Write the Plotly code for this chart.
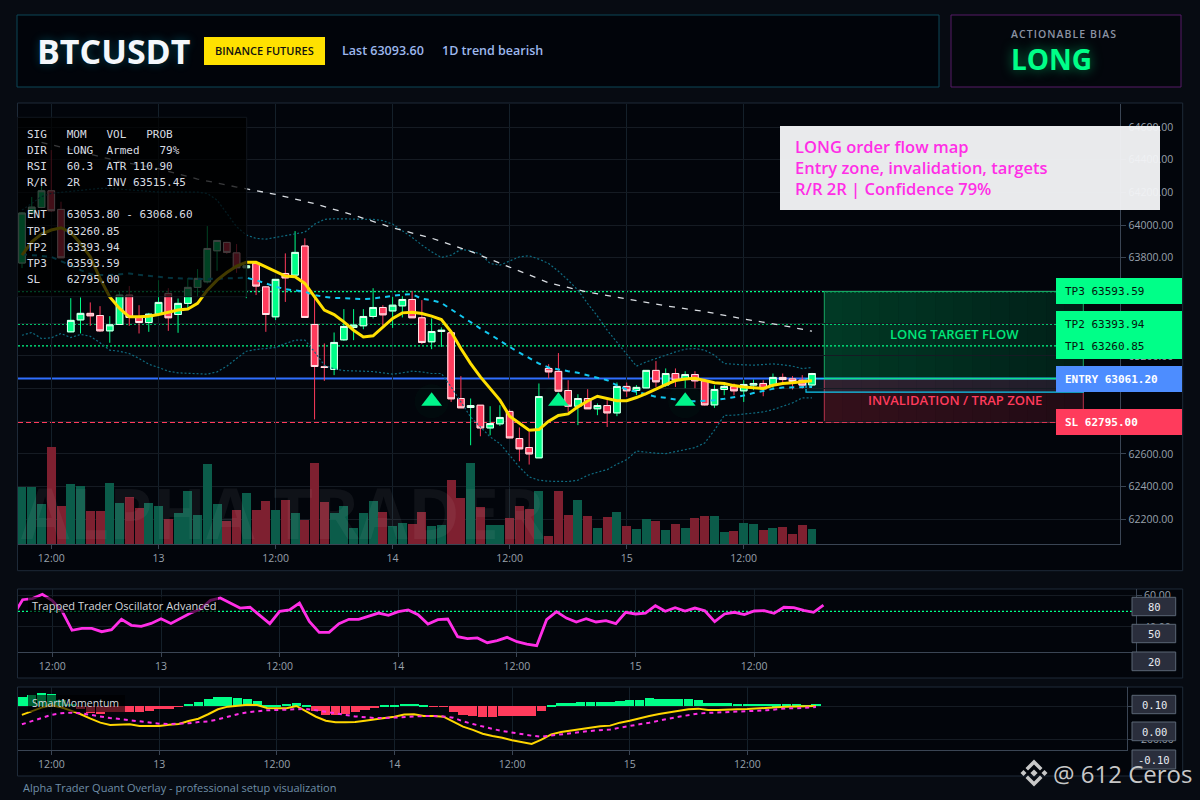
import plotly.graph_objects as go

W, H = 1200, 800
SANS = "Open Sans"
MONO = "DejaVu Sans Mono"
GREEN = "#00ff88"
RED = "#ff3b5c"
MAGENTA = "#ff2ee6"

opens = [63768, 64074, 64108, 64210, 64096, 63347, 63420, 63460, 63447, 63353,
         63392, 63572, 63439, 63404, 63455, 63582, 63453, 63521, 63619, 63653,
         63843, 63894, 63830, 63739, 63766, 63622, 63439, 63704, 63694, 63872,
         63392, 63133, 63117, 63298, 63374, 63384, 63441, 63496, 63475, 63506,
         63545, 63433, 63286, 63349, 63341, 62939, 62884, 62898, 62759, 62784,
         62860, 62694, 62639, 62576, 63123, 63105, 62988, 62892, 62939, 62876,
         62896, 62851, 63013, 62988, 63004, 63111, 63022, 63092, 63056, 63086,
         63047, 62900, 62994, 63013, 62986, 63021, 63031, 63022, 63068, 63059, 63051, 63022]
closes = [64074, 64110, 64210, 64088, 63800, 63417, 63460, 63445, 63353, 63390,
          63572, 63435, 63404, 63455, 63527, 63433, 63521, 63619, 63674, 63857,
          63906, 63833, 63739, 63751, 63627, 63453, 63668, 63677, 63833, 63435,
          63135, 63129, 63282, 63380, 63388, 63441, 63496, 63451, 63510, 63545,
          63433, 63282, 63349, 63357, 62937, 62882, 62896, 62759, 62786, 62823,
          62698, 62631, 62600, 62951, 63102, 62984, 62892, 62939, 62876, 62896,
          62851, 63013, 62986, 63007, 63111, 63041, 63092, 63051, 63086, 63047,
          62900, 62994, 63013, 62986, 63025, 63031, 62998, 63068, 63055, 63043, 63021, 63092]
highs = [64080, 64172, 64239, 64459, 64143, 63553, 63558, 63527, 63504, 63443,
         63590, 63627, 63510, 63463, 63663, 63614, 63551, 63676, 63731, 63994,
         63908, 63898, 63884, 63761, 63768, 63627, 63670, 63827, 63963, 63919,
         63559, 63276, 63343, 63486, 63486, 63486, 63614, 63510, 63561, 63565,
         63596, 63541, 63429, 63374, 63357, 63076, 62939, 62898, 62892, 62898,
         62872, 62762, 62735, 63031, 63149, 63217, 63051, 62965, 62996, 62909,
         62929, 63037, 63037, 63021, 63112, 63168, 63123, 63123, 63106, 63106,
         63062, 63021, 63031, 63031, 63051, 63055, 63051, 63092, 63092, 63076, 63082, 63096]
lows = [63737, 64061, 64104, 64080, 63798, 63345, 63337, 63384, 63347, 63280,
        63390, 63384, 63337, 63347, 63449, 63353, 63341, 63490, 63561, 63643,
        63720, 63823, 63708, 63553, 63572, 63347, 63419, 63530, 63684, 63433,
        62811, 63047, 63082, 63292, 63296, 63363, 63429, 63378, 63371, 63435,
        63433, 63272, 63241, 63255, 62918, 62882, 62653, 62708, 62714, 62771,
        62698, 62555, 62535, 62576, 63062, 62984, 62857, 62776, 62876, 62837,
        62765, 62831, 62949, 62959, 63002, 63010, 63010, 63010, 63002, 63002,
        62896, 62882, 62959, 62959, 62918, 62990, 62953, 63002, 63031, 62994, 63000, 63014]
volumes = [57, 57, 40, 97, 38, 60, 58, 33, 33, 61, 41, 47, 36, 41, 38, 25, 31, 53, 29, 80,
           40, 23, 34, 51, 34, 43, 34, 44, 31, 24, 81, 42, 31, 38, 16, 31, 43, 32, 18, 21,
           20, 32, 18, 19, 64, 46, 81, 37, 19, 19, 26, 38, 35, 53, 8, 53, 29, 44, 28, 16,
           27, 32, 18, 15, 25, 23, 14, 20, 16, 26, 28, 28, 12, 13, 21, 20, 14, 16, 17, 10, 19, 15]
ema_fast = [63816, 63898, 63945, 63970, 63984, 63955, 63888, 63806, 63674, 63561,
            63490, 63439, 63439, 63443, 63453, 63465, 63480, 63486, 63521, 63602,
            63663, 63710, 63749, 63772, 63772, 63745, 63714, 63688, 63684, 63643,
            63561, 63480, 63453, 63408, 63357, 63316, 63323, 63378, 63429, 63463,
            63467, 63459, 63443, 63422, 63347, 63245, 63153, 63071, 63000, 62929,
            62831, 62786, 62745, 62749, 62800, 62835, 62845, 62888, 62924, 62953,
            62939, 62926, 62926, 62945, 62969, 62998, 63024, 63049, 63059, 63063,
            63051, 63035, 63031, 63018, 63010, 63004, 63000, 63020, 63031, 63035, 63039, 63047]
ema_mid = [63821, 63817, 63810, 63806, 63780, 63751, 63725, 63700, 63694, 63694,
           63700, 63704, 63696, 63688, 63684, 63678, 63674, 63670, 63670, 63670,
           63672, 63676, 63678, 63678, 63663, 63643, 63623, 63608, 63598, 63592,
           63572, 63561, 63555, 63553, 63549, 63547, 63551, 63561, 63567, 63574,
           63578, 63549, 63541, 63524, 63484, 63449, 63408, 63367, 63331, 63292,
           63255, 63220, 63184, 63153, 63129, 63116, 63106, 63096, 63082, 63067,
           63051, 63020, 62994, 62980, 62963, 62949, 62943, 62933, 62924, 62922,
           62924, 62929, 62937, 62945, 62957, 62973, 62986, 62998, 63006, 63006, 63008, 63010]
band_upper = [64092, 64133, 64174, 64194, 64200, 64204, 64210, 64218, 64225, 64225,
              64220, 64216, 64212, 64204, 64202, 64202, 64202, 64202, 64202, 64194,
              64153, 64072, 63990, 63939, 63919, 63914, 63925, 63933, 63943, 63957,
              64006, 64035, 64039, 64039, 64039, 64037, 64035, 64027, 64006, 63965,
              63925, 63878, 63837, 63802, 63816, 63851, 63843, 63823, 63765, 63755,
              63782, 63806, 63812, 63792, 63765, 63718, 63663, 63602, 63520, 63443,
              63357, 63286, 63214, 63137, 63163, 63184, 63204, 63224, 63241, 63245,
              63235, 63204, 63153, 63147, 63145, 63143, 63149, 63151, 63145, 63137, 63122, 63129]
band_lower = [63326, 63343, 63306, 63310, 63337, 63312, 63331, 63320, 63280, 63235,
              63228, 63214, 63184, 63149, 63129, 63106, 63096, 63092, 63088, 63088,
              63102, 63137, 63184, 63228, 63239, 63243, 63251, 63275, 63296, 63296,
              63224, 63143, 63120, 63110, 63106, 63106, 63104, 63096, 63088, 63096,
              63106, 63102, 63092, 63092, 63010, 62918, 62826, 62765, 62704, 62663,
              62592, 62520, 62459, 62439, 62433, 62431, 62431, 62439, 62469, 62488,
              62504, 62537, 62565, 62618, 62610, 62604, 62602, 62616, 62626, 62639,
              62667, 62745, 62835, 62837, 62843, 62851, 62857, 62871, 62892, 62912, 62943, 62943]
trend_idx = [2, 6, 10, 14, 18, 22, 26, 30, 34, 38, 42, 46, 50, 54, 58, 62, 66, 70, 74, 78, 81]
trend_val = [64506, 64449, 64390, 64345, 64282, 64233, 64188, 64131, 64061, 63984, 63920,
             63839, 63741, 63647, 63590, 63547, 63506, 63471, 63426, 63386, 63351]
signal_idx = [42, 55, 68]
signal_val = [62922, 62922, 62922]

osc_val = [46.8, 57.4, 58.1, 60.9, 56.8, 50, 37.9, 39.1, 39.1, 37, 38.3, 44.9, 41.1, 40.4, 42.3,
           45.3, 42.3, 45.7, 48.9, 51.5, 57, 58.5, 55.3, 52.1, 52.6, 47.2, 42.1, 50, 50.9, 55.3,
           43.6, 36.6, 36.6, 42.1, 44.9, 44.9, 46.8, 48.9, 47.4, 49.8, 50.9, 47.9, 41.9, 44.7, 45.1,
           33.8, 32.6, 33, 30, 31.3, 33.4, 30.6, 29.1, 28.1, 44.7, 49.8, 45.7, 43.2, 45.3, 43.2,
           44, 42.1, 49.4, 48.3, 48.9, 53.6, 50, 52.3, 50.2, 52.1, 50.4, 43.4, 48.3, 49.4, 47.9,
           50.2, 50.4, 48.7, 52.6, 52.3, 50.6, 49.4, 54]
hist_val = [54, 69, 79, 75, 38, 14, -14, -40, -46, -34, -32, -34, -32, -28, -16, -16, -4, 14, 26, 44,
            57, 57, 50, 44, 30, 8, 8, 14, 20, 2, -26, -50, -50, -48, -34, -22, -10, 2, 8, 14,
            14, 2, -2, -2, -34, -52, -59, -65, -65, -57, -57, -59, -59, -28, 8, 20, 20, 26, 26, 26,
            26, 32, 38, 38, 50, 44, 44, 44, 44, 38, 20, 20, 20, 14, 14, 14, 14, 12, 12, 12, 8, 14]
macd_val = [-52, -32, -8, 6, -6, -26, -48, -75, -99, -113, -111, -109, -119, -121, -119, -111, -107, -89,
            -75, -48, -18, -2, 4, 10, 8, -10, -12, -12, 2, -28, -63, -87, -97, -97, -95, -87, -77, -71,
            -63, -50, -48, -59, -59, -63, -93, -123, -143, -166, -180, -190, -206, -218, -228, -202,
            -170, -156, -147, -135, -127, -121, -117, -99, -87, -75, -59, -46, -36, -28, -18, -14, -22,
            -22, -18, -18, -16, -14, -12, -6, -2, -2, 2, 2]
macd_signal = [-109, -91, -71, -52, -42, -38, -42, -52, -63, -71, -77, -85, -93, -101, -105, -107, -105,
               -103, -95, -91, -79, -63, -48, -36, -28, -24, -22, -20, -16, -16, -24, -34, -46, -52, -61,
               -67, -71, -71, -67, -63, -59, -59, -59, -61, -69, -91, -107, -123, -137, -149, -160, -170,
               -178, -184, -178, -170, -164, -156, -149, -145, -141, -129, -117, -109, -99, -89, -75, -63,
               -52, -44, -40, -38, -34, -32, -28, -26, -24, -18, -12, -12, -8, -4]

ENTRY, TP1, TP2, TP3, SL = 63061.20, 63260.85, 63393.94, 63593.59, 62795.00
ENTRY_LOW = 62978
idx = list(range(len(opens)))
tick_idx = [3, 14, 26, 38, 50, 62, 74]
tick_txt = ["12:00", "13", "12:00", "14", "12:00", "15", "12:00"]
price_ticks = list(range(62200, 64601, 200))
info_rows = ["SIG   MOM   VOL   PROB", "DIR   LONG  Armed   79%", "RSI   60.3  ATR 110.90",
             "R/R   2R    INV 63515.45", "", "ENT   63053.80 - 63068.60", "TP1   63260.85",
             "TP2   63393.94", "TP3   63593.59", "SL    62795.00"]
note_rows = ["LONG order flow map", "Entry zone, invalidation, targets", "R/R 2R | Confidence 79%"]


def px(x):
    return x / W


def py(y):
    return 1 - y / H


fig = go.Figure()

# --- volume + candles ---
bar_colors = ["#0b5c4a" if c >= o else "#7e2030" for o, c in zip(opens, closes)]
fig.add_trace(go.Bar(x=idx, y=volumes, marker=dict(color=bar_colors, line=dict(width=0)), width=0.92,
                     xaxis="x", yaxis="y", hoverinfo="skip"))
fig.add_trace(go.Candlestick(x=idx, open=opens, high=highs, low=lows, close=closes, xaxis="x", yaxis="y2",
                             whiskerwidth=0,
                             increasing=dict(line=dict(color=GREEN, width=1), fillcolor=GREEN),
                             decreasing=dict(line=dict(color=RED, width=1), fillcolor=RED)))
# the bodies again, without wick, for the white outline
body_top = [max(o, c) for o, c in zip(opens, closes)]
body_bot = [min(o, c) for o, c in zip(opens, closes)]
fig.add_trace(go.Candlestick(x=idx, open=opens, high=body_top, low=body_bot, close=closes, xaxis="x", yaxis="y2",
                             whiskerwidth=0, hoverinfo="skip",
                             increasing=dict(line=dict(color="#eafff4", width=1), fillcolor=GREEN),
                             decreasing=dict(line=dict(color="#ffe8ec", width=1), fillcolor=RED)))
fig.add_trace(go.Scatter(x=idx, y=band_upper, mode="lines", line=dict(color="#0f6b80", width=1.2, dash="2px,2px"),
                         xaxis="x", yaxis="y2"))
fig.add_trace(go.Scatter(x=idx, y=band_lower, mode="lines", line=dict(color="#0f6b80", width=1.2, dash="2px,2px"),
                         xaxis="x", yaxis="y2"))
fig.add_trace(go.Scatter(x=trend_idx, y=trend_val, mode="lines", line=dict(color="#d9dde2", width=1.3, dash="6px,7px"),
                         xaxis="x", yaxis="y2"))
fig.add_trace(go.Scatter(x=idx, y=ema_mid, mode="lines", line=dict(color="#12c8f0", width=2, dash="5px,5px"),
                         xaxis="x", yaxis="y2"))
fig.add_trace(go.Scatter(x=idx, y=ema_fast, mode="lines", line=dict(color="#ffdf00", width=3),
                         xaxis="x", yaxis="y2"))
fig.add_trace(go.Scatter(x=signal_idx, y=signal_val, mode="markers",
                         marker=dict(symbol="circle", size=34, color="rgba(0,255,136,0.025)"),
                         xaxis="x", yaxis="y2"))
fig.add_trace(go.Scatter(x=signal_idx, y=signal_val, mode="markers",
                         marker=dict(symbol="triangle-up", size=18, color="#00f58a"),
                         xaxis="x", yaxis="y2"))

# --- oscillator ---
fig.add_trace(go.Scatter(x=[-1] + idx, y=osc_val, mode="lines", line=dict(color=MAGENTA, width=2.8),
                         xaxis="x2", yaxis="y3"))

# --- momentum ---
hist_colors = [GREEN if v >= 0 else RED for v in hist_val]
fig.add_trace(go.Bar(x=idx, y=hist_val, marker=dict(color=hist_colors, line=dict(width=0)), width=0.95,
                     xaxis="x3", yaxis="y4"))
fig.add_trace(go.Scatter(x=idx, y=macd_val, mode="lines", line=dict(color="#ffd600", width=2),
                         xaxis="x3", yaxis="y4"))
fig.add_trace(go.Scatter(x=idx, y=macd_signal, mode="lines", line=dict(color=MAGENTA, width=2, dash="4px,4px"),
                         xaxis="x3", yaxis="y4"))

grid = "#151b23"
axis_line = "#3a4554"
tick_font = dict(family=SANS, size=10.5, color="#98a1ac")


def x_axis(x0, x1, first, step):
    return dict(domain=[px(x0), px(x1)], range=[(x0 - first) / step, (x1 - first) / step],
                tickmode="array", tickvals=tick_idx, ticktext=tick_txt, tickfont=tick_font,
                showgrid=True, gridcolor="#14202a", gridwidth=1, zeroline=False, showline=True,
                linecolor=axis_line, linewidth=1, ticks="outside", ticklen=4, tickcolor=axis_line,
                rangeslider=dict(visible=False), fixedrange=True)


def y_axis(y0, y1, rng, vals, **kw):
    d = dict(domain=[py(y1), py(y0)], range=rng, side="right", tickmode="array", tickvals=vals,
             tickformat=".2f", tickfont=tick_font, showgrid=True, gridcolor=grid, zeroline=False,
             showline=True, linecolor=axis_line, linewidth=1, ticks="outside", ticklen=5,
             tickcolor=axis_line, fixedrange=True)
    d.update(kw)
    return d


fig.update_layout(
    width=W, height=H, autosize=False, margin=dict(l=0, r=0, t=0, b=0),
    paper_bgcolor="#070b12", plot_bgcolor="rgba(0,0,0,0)", showlegend=False, bargap=0,
    boxmode="overlay", boxgap=0, boxgroupgap=0.32,
    xaxis=x_axis(18, 1120.3, 22, 9.753),
    xaxis2=x_axis(18, 1136, 22.6, 9.887),
    xaxis3=x_axis(18, 1127, 21.9, 9.803),
    yaxis=dict(domain=[py(544.3), py(104)], range=[0, 440], visible=False, fixedrange=True, anchor="x"),
    yaxis2=y_axis(104, 544.3, [62047, 64741], price_ticks, overlaying="y", anchor="x"),
    yaxis3=y_axis(589, 652, [24.04, 64.25], [60, 40], anchor="x2"),
    yaxis4=y_axis(687, 750, [-264.6, 117], [0, -200], anchor="x3"),
)
fig.layout.xaxis2.anchor = "y3"
fig.layout.xaxis3.anchor = "y4"
fig.layout.xaxis.anchor = "y2"


def rect(x0, y0, x1, y1, fill=None, line=None, width=1, layer="below"):
    fig.add_shape(type="rect", xref="paper", yref="paper", x0=px(x0), x1=px(x1), y0=py(y0), y1=py(y1),
                  fillcolor=fill or "rgba(0,0,0,0)", line=dict(color=line or "rgba(0,0,0,0)", width=width if line else 0),
                  layer=layer)


def label(x, y, text, size, color, anchor="left", family=SANS, weight=400, shadow=None):
    font = dict(family=family, size=size, color=color, weight=weight)
    if shadow:
        font["shadow"] = shadow
    fig.add_annotation(x=px(x), y=py(y), xref="paper", yref="paper", text=text.replace(" ", "\u00a0"),
                       showarrow=False, xanchor=anchor, yanchor="middle", font=font, borderpad=0, borderwidth=0)


# --- frames ---
rect(17, 15, 939, 87, "#01040a", "#0d4656")
rect(951, 15, 1181, 87, "#03060c", "#561a66")
rect(17.5, 103, 1182.7, 570.7, "#02050b", "#1e2a38")
rect(17.5, 589, 1182.7, 678, "#02050b", "#1e2a38")
rect(17.5, 687, 1182.7, 776, "#02050b", "#1e2a38")

# --- trade zones ---
zx0, zx1 = (824.3 - 22) / 9.753, (1083.3 - 22) / 9.753
strips = 14
for k in range(strips):
    a = k / strips
    b = (k + 1) / strips
    fig.add_shape(type="rect", xref="x", yref="y2", x0=zx0 + (zx1 - zx0) * a, x1=zx0 + (zx1 - zx0) * b,
                  y0=ENTRY, y1=TP3, fillcolor=f"rgba(0,255,136,{0.21 - 0.11 * a:.3f})", line=dict(width=0), layer="below")
    fig.add_shape(type="rect", xref="x", yref="y2", x0=zx0 + (zx1 - zx0) * a, x1=zx0 + (zx1 - zx0) * b,
                  y0=SL, y1=ENTRY, fillcolor=f"rgba(255,59,92,{0.20 - 0.08 * a:.3f})", line=dict(width=0), layer="below")
fig.add_shape(type="rect", xref="x", yref="y2", x0=zx0, x1=zx1, y0=ENTRY, y1=TP3,
              line=dict(color="#17a863", width=1), layer="below")
fig.add_shape(type="rect", xref="x", yref="y2", x0=zx0, x1=zx1, y0=SL, y1=ENTRY,
              line=dict(color="#b8324c", width=1), layer="below")
fig.add_shape(type="rect", xref="x", yref="y2", x0=(806 - 22) / 9.753, x1=zx1, y0=ENTRY_LOW, y1=ENTRY,
              fillcolor="rgba(18,200,240,0.10)", line=dict(color="#12c8f0", width=1.2), layer="below")

# --- level lines ---
for level, col, w, dash in [(TP3, GREEN, 1.2, "2px,2px"), (TP2, GREEN, 1.2, "2px,2px"), (TP1, GREEN, 1.2, "2px,2px"),
                            (ENTRY, "#2f6fff", 2, "solid"), (SL, RED, 2, "5px,3px")]:
    fig.add_shape(type="line", xref="paper", yref="y2", x0=px(18), x1=px(1056), y0=level, y1=level,
                  line=dict(color=col, width=w, dash=dash), layer="below")
fig.add_shape(type="line", xref="x", yref="y2", x0=zx0, x1=(1056 - 22) / 9.753, y0=ENTRY, y1=ENTRY,
              line=dict(color="#0be08a", width=1.5), layer="below")
fig.add_shape(type="line", xref="paper", yref="y3", x0=px(18), x1=px(1132), y0=50, y1=50,
              line=dict(color=GREEN, width=1.2, dash="2px,2px"), layer="below")

# --- overlays on top of the candles ---
rect(17.5, 117.3, 246.7, 296.7, "rgba(0,0,0,0.74)", "#10161e", layer="above")
rect(780, 126, 1160, 210, "rgba(243,244,246,0.96)", layer="above")
rect(28, 597, 218, 613, "rgba(0,0,0,0.62)", layer="above")
rect(28, 695, 125, 712, "rgba(0,0,0,0.62)", layer="above")
rect(1056, 278, 1182, 304, GREEN, layer="above")
rect(1056, 311, 1182, 337, GREEN, layer="above")
rect(1056, 333, 1182, 359, GREEN, layer="above")
rect(1056, 366, 1182, 392, "#4d8dff", layer="above")
rect(1056, 409, 1182, 435, RED, layer="above")
for y0, y1, x0 in [(597.3, 615.7, 1132), (624.3, 642.7, 1132), (652, 670.7, 1132),
                   (695.3, 713.7, 1132), (722, 740.7, 1132), (750, 769, 1132)]:
    rect(x0, y0, 1175.7, y1, "#2a2e3c", "#5a6675", layer="above")
rect(204, 37, 325, 65, "#ffe100", layer="above")

# --- header ---
label(37, 51, "BTCUSDT", 34, "#f4f7fb", weight=700, shadow="0 0 10px rgba(0,200,230,0.3)")
label(264.5, 51, "BINANCE FUTURES", 11, "#111111", anchor="center", weight=600)
label(342, 51, "Last 63093.60", 12.5, "#9db8ee", weight=600)
label(442, 51, "1D trend bearish", 12.5, "#9db8ee", weight=600)
label(1011, 34, "\u200a".join("ACTIONABLE BIAS"), 10.5, "#8b93a3", weight=600)
label(1011, 59, "LONG", 28, GREEN, weight=700, shadow="0 0 12px rgba(0,255,136,0.5)")

# --- info table ---
row_y = 134
for row in info_rows:
    if row:
        label(27, row_y, row, 11, "#d8dce1", family=MONO)
    row_y += 16.2

for i, row in enumerate(note_rows):
    label(795, 147 + i * 20.8, row, 16.5, MAGENTA, weight=600)

label(955, 334, "LONG TARGET FLOW", 13, "#00e67a", anchor="center", weight=600)
label(955, 400, "INVALIDATION / TRAP ZONE", 13, RED, anchor="center", weight=600)
label(1065, 291, "TP3 63593.59", 11, "#06140d", family=MONO)
label(1065, 324, "TP2 63393.94", 11, "#06140d", family=MONO)
label(1065, 346, "TP1 63260.85", 11, "#06140d", family=MONO)
label(1065, 379, "ENTRY 63061.20", 11, "#ffffff", family=MONO, weight=700)
label(1065, 422, "SL 62795.00", 11, "#ffffff", family=MONO, weight=700)

for y, txt in [(606.5, "80"), (633.5, "50"), (661.5, "20"), (704.5, "0.10"), (731.5, "0.00"), (759.5, "-0.10")]:
    label(1154, y, txt, 10.5, "#e8ebf0", anchor="center", family=MONO)

label(32, 605, "Trapped Trader Oscillator Advanced", 11, "#d4d8de")
label(32, 703, "SmartMomentum", 10.5, "#d4d8de")
label(283, 512, "ALPHA TRADER", 70, "rgba(255,255,255,0.055)", anchor="center", weight=700)
label(23, 787, "Alpha Trader Quant Overlay - professional setup visualization", 11, "#6f8fa8")
label(1053, 773, "@ 612 Ceros", 24, "#c8c8c8")


# --- logo next to the signature ---
def poly(points, cx=1034, cy=773):
    return "M" + " L".join(f"{px(cx + a)},{py(cy + b)}" for a, b in points) + " Z"


def diamond(dx, dy, r):
    return poly([(dx, dy - r), (dx + r, dy), (dx, dy + r), (dx - r, dy)])


logo = [diamond(0, 0, 3.6), diamond(-10.5, 0, 3), diamond(10.5, 0, 3),
        poly([(0, -13.5), (8.5, -5), (6, -2.5), (0, -8.5), (-6, -2.5), (-8.5, -5)]),
        poly([(0, 13.5), (8.5, 5), (6, 2.5), (0, 8.5), (-6, 2.5), (-8.5, 5)])]
for path in logo:
    fig.add_shape(type="path", xref="paper", yref="paper", path=path, fillcolor="#c8c8c8", line=dict(width=0), layer="above")

fig.write_html("out.html", config={"displayModeBar": False},
               post_script="document.body.style.margin='0';document.body.style.overflow='hidden';document.body.style.background='#070b12';")
